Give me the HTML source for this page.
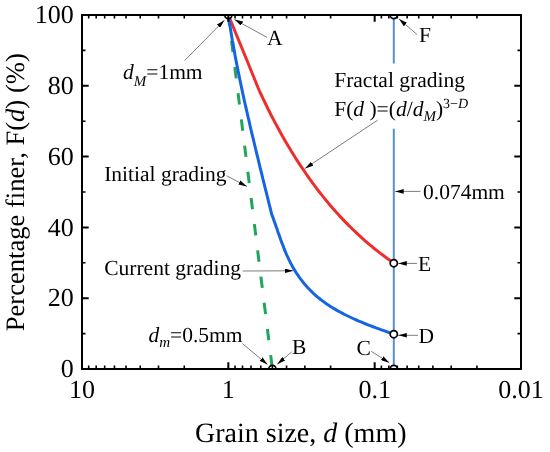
<!DOCTYPE html>
<html><head><meta charset="utf-8"><style>html,body{margin:0;padding:0;background:#fff;width:550px;height:452px;overflow:hidden}svg{display:block}text{text-rendering:geometricPrecision}</style></head>
<body><svg width="550" height="452" viewBox="0 0 550 452"><rect width="550" height="452" fill="#fff"/><defs><clipPath id="c"><rect x="82" y="15" width="439" height="354"/></clipPath><marker id="ah" viewBox="0 0 8.5 4.6" refX="8.5" refY="2.3" markerWidth="8.5" markerHeight="4.6" markerUnits="userSpaceOnUse" orient="auto"><path d="M0,0 L8.5,2.3 L0,4.6 z" fill="#000"/></marker></defs><line x1="393.80" y1="15" x2="393.80" y2="369" stroke="#5890cf" stroke-width="2"/><rect x="333" y="63.5" width="140" height="65.2" fill="#fff"/><g clip-path="url(#c)" fill="none" stroke-linejoin="round"><line x1="228.33" y1="15" x2="272.38" y2="369" stroke="#22a55a" stroke-width="3" stroke-dasharray="11.4 15" stroke-dashoffset="0.4"/><polyline points="228.3,15.0 242.7,50.0 259.0,90.0 259.9,92.0 261.1,94.5 262.3,97.0 263.4,99.5 264.7,102.0 265.9,104.5 267.1,107.0 268.3,109.5 269.6,112.0 270.8,114.5 272.1,117.0 273.4,119.4 274.7,121.9 276.0,124.4 277.3,126.8 278.7,129.3 280.0,131.7 281.4,134.2 282.7,136.6 284.1,139.0 285.5,141.4 286.9,143.8 288.3,146.2 289.8,148.6 291.2,151.0 292.7,153.4 294.2,155.7 295.6,158.1 297.1,160.4 298.7,162.8 300.2,165.1 301.7,167.4 303.3,169.7 304.9,172.0 306.4,174.3 308.0,176.6 309.6,178.9 311.3,181.1 312.9,183.4 314.6,185.6 316.2,187.8 317.9,190.1 319.6,192.3 321.3,194.4 323.1,196.6 324.8,198.8 326.6,200.9 328.3,203.1 330.1,205.2 331.9,207.3 333.8,209.4 335.6,211.5 337.5,213.5 339.3,215.6 341.2,217.6 343.1,219.6 345.0,221.6 347.0,223.6 348.9,225.6 350.9,227.5 352.9,229.5 354.9,231.4 356.9,233.3 358.9,235.2 361.0,237.1 363.0,238.9 365.1,240.8 367.2,242.6 369.3,244.4 371.5,246.2 373.6,248.0 375.8,249.7 378.0,251.4 380.2,253.1 382.4,254.8 384.7,256.5 386.9,258.2 389.2,259.8 391.5,261.4 393.8,263.0" stroke="#ee2d2d" stroke-width="3"/><polyline points="228.3,15.0 229.1,20.2 229.9,25.3 230.7,30.5 231.6,35.7 232.4,40.8 233.4,45.9 234.3,51.1 235.2,56.2 236.2,61.4 237.2,66.5 238.2,71.6 239.3,76.7 240.3,81.8 241.4,86.9 242.5,92.1 243.6,97.2 244.7,102.3 245.9,107.4 247.0,112.4 248.2,117.5 249.4,122.6 250.5,127.7 251.7,132.8 253.0,137.9 254.2,143.0 255.4,148.0 256.6,153.1 257.9,158.2 259.1,163.3 260.3,168.3 261.6,173.4 262.8,178.5 264.1,183.6 265.3,188.6 266.6,193.7 267.9,198.8 269.1,203.9 270.4,208.9 271.6,214.0 272.4,216.1 273.2,218.2 273.9,220.4 274.7,222.5 275.5,224.7 276.2,226.8 277.0,229.0 277.7,231.2 278.5,233.4 279.3,235.6 280.1,237.8 280.8,240.0 281.6,242.2 282.5,244.3 283.3,246.5 284.1,248.7 285.0,250.8 285.9,253.0 286.8,255.1 287.8,257.2 288.8,259.3 289.8,261.4 290.8,263.4 291.9,265.4 293.0,267.5 294.2,269.4 295.4,271.4 296.6,273.3 297.9,275.2 299.2,277.1 300.5,278.9 301.9,280.7 303.3,282.5 304.8,284.3 306.3,286.0 307.8,287.7 309.3,289.3 310.9,290.9 312.5,292.5 314.2,294.1 315.9,295.6 317.6,297.1 319.4,298.5 321.2,299.9 323.0,301.3 324.8,302.6 326.7,304.0 328.6,305.2 330.5,306.5 332.5,307.7 334.5,308.9 336.5,310.1 338.5,311.2 340.5,312.3 342.5,313.4 344.6,314.5 346.7,315.5 348.8,316.5 350.9,317.5 353.0,318.5 355.1,319.5 357.3,320.4 359.4,321.3 361.6,322.2 363.7,323.1 365.9,324.0 368.1,324.8 370.2,325.7 372.4,326.5 374.6,327.3 376.7,328.1 378.9,328.9 381.0,329.7 383.2,330.4 385.3,331.2 387.5,332.0 389.6,332.7 391.7,333.5 393.8,334.2" stroke="#1565e0" stroke-width="3"/></g><g clip-path="url(#c)" fill="#fff" stroke="#000" stroke-width="1.7"><circle cx="228.33" cy="15.00" r="3.6"/><circle cx="272.38" cy="369.00" r="3.6"/><circle cx="393.80" cy="15.00" r="3.6"/><circle cx="393.80" cy="369.00" r="3.6"/></g><path d="M82.00,15v6.7M82.00,369v-6.7M228.33,15v6.7M228.33,369v-6.7M374.67,15v6.7M374.67,369v-6.7M521.00,15v6.7M521.00,369v-6.7M82,369.00h6.7M521,369.00h-6.7M82,298.20h6.7M521,298.20h-6.7M82,227.40h6.7M521,227.40h-6.7M82,156.60h6.7M521,156.60h-6.7M82,85.80h6.7M521,85.80h-6.7M82,15.00h6.7M521,15.00h-6.7" stroke="#000" stroke-width="2" fill="none"/><path d="M184.28,15v3.5M184.28,369v-3.5M158.51,15v3.5M158.51,369v-3.5M140.23,15v3.5M140.23,369v-3.5M126.05,15v3.5M126.05,369v-3.5M114.46,15v3.5M114.46,369v-3.5M104.67,15v3.5M104.67,369v-3.5M96.18,15v3.5M96.18,369v-3.5M88.70,15v3.5M88.70,369v-3.5M330.62,15v3.5M330.62,369v-3.5M304.85,15v3.5M304.85,369v-3.5M286.57,15v3.5M286.57,369v-3.5M272.38,15v3.5M272.38,369v-3.5M260.80,15v3.5M260.80,369v-3.5M251.00,15v3.5M251.00,369v-3.5M242.51,15v3.5M242.51,369v-3.5M235.03,15v3.5M235.03,369v-3.5M476.95,15v3.5M476.95,369v-3.5M451.18,15v3.5M451.18,369v-3.5M432.90,15v3.5M432.90,369v-3.5M418.72,15v3.5M418.72,369v-3.5M407.13,15v3.5M407.13,369v-3.5M397.33,15v3.5M397.33,369v-3.5M388.85,15v3.5M388.85,369v-3.5M381.36,15v3.5M381.36,369v-3.5M82,333.60h3.5M521,333.60h-3.5M82,262.80h3.5M521,262.80h-3.5M82,192.00h3.5M521,192.00h-3.5M82,121.20h3.5M521,121.20h-3.5M82,50.40h3.5M521,50.40h-3.5" stroke="#000" stroke-width="1.6" fill="none"/><rect x="82" y="15" width="439" height="354" fill="none" stroke="#000" stroke-width="2"/><g fill="#fff" stroke="#000" stroke-width="1.7"><circle cx="393.80" cy="263.20" r="3.6"/><circle cx="393.80" cy="334.20" r="3.6"/></g><g stroke="#666" stroke-width="0.85" fill="none" marker-end="url(#ah)"><line x1="267" y1="37.4" x2="234.5" y2="19.5"/><line x1="184.5" y1="60.7" x2="224.4" y2="20.2"/><line x1="377.6" y1="120.2" x2="305.1" y2="168.4"/><line x1="226.7" y1="175.8" x2="246.9" y2="186.4"/><line x1="242.7" y1="271.0" x2="293.2" y2="270.8"/><line x1="420.5" y1="191.4" x2="395.2" y2="191.4"/><line x1="417" y1="263.4" x2="398.3" y2="263.4"/><line x1="418" y1="335.3" x2="398.3" y2="335.3"/><line x1="242.5" y1="343.6" x2="267.5" y2="364.6"/><line x1="291.6" y1="351.9" x2="277.3" y2="364.2"/><line x1="371.3" y1="351.3" x2="389.3" y2="362.7"/><line x1="417" y1="34.5" x2="399" y2="19"/></g><g font-family="'Liberation Serif','Times New Roman',serif" font-size="26" fill="#000"><text x="73.8" y="377.2" text-anchor="end">0</text><text x="73.8" y="306.4" text-anchor="end">20</text><text x="73.8" y="235.6" text-anchor="end">40</text><text x="73.8" y="164.8" text-anchor="end">60</text><text x="73.8" y="94.0" text-anchor="end">80</text><text x="73.8" y="23.2" text-anchor="end">100</text><text x="82.0" y="397.5" text-anchor="middle">10</text><text x="228.3" y="397.5" text-anchor="middle">1</text><text x="374.7" y="397.5" text-anchor="middle">0.1</text><text x="521.0" y="397.5" text-anchor="middle">0.01</text></g><text font-family="'Liberation Serif','Times New Roman',serif" font-size="28" x="195" y="441.5">Grain size, <tspan font-style="italic">d</tspan> (mm)</text><text font-family="'Liberation Serif','Times New Roman',serif" font-size="26.6" transform="translate(24.0,331.3) rotate(-90)">Percentage finer, F(<tspan font-style="italic">d</tspan>) (%)</text><g font-family="'Liberation Serif','Times New Roman',serif" font-size="21.5" fill="#000"><text x="267" y="45.4">A</text><text x="419" y="42.2">F</text><text x="418" y="270.9">E</text><text x="418.5" y="343">D</text><text x="292" y="354.1">B</text><text x="356.5" y="355.4">C</text><text x="423" y="199.4">0.074mm</text><text x="104.2" y="180.6">Initial grading</text><text x="104.2" y="274.9">Current grading</text><text x="123" y="79"><tspan font-style="italic">d</tspan><tspan font-style="italic" font-size="15" dy="6.8">M</tspan><tspan dy="-6.8">=1mm</tspan></text><text x="148.5" y="342"><tspan font-style="italic">d</tspan><tspan font-style="italic" font-size="15" dy="5">m</tspan><tspan dy="-5">=0.5mm</tspan></text><text x="334.2" y="86.6">Fractal grading</text><text x="334.2" y="116">F(<tspan font-style="italic">d</tspan> )=(<tspan font-style="italic">d</tspan>/<tspan font-style="italic">d</tspan><tspan font-style="italic" font-size="15" dy="5">M</tspan><tspan dy="-5">)</tspan><tspan font-size="14" dy="-8.3">3−</tspan><tspan font-size="14" font-style="italic">D</tspan></text></g></svg></body></html>
